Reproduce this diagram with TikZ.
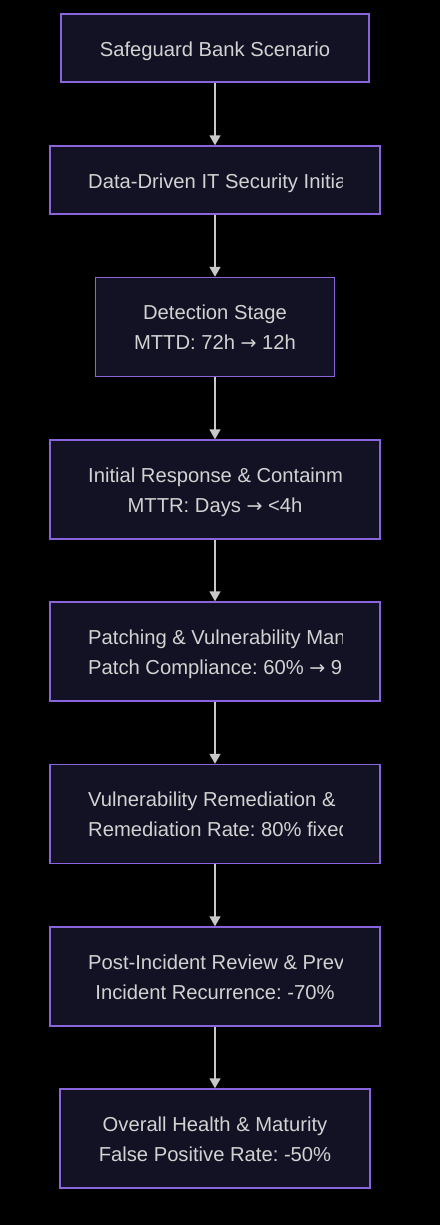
\documentclass[tikz,border=0pt]{standalone}
\usepackage{fontspec}
\setmainfont{Liberation Sans}
\newfontfamily\arrfont{DejaVu Sans}
\usetikzlibrary{arrows.meta}
\definecolor{bgc}{RGB}{0,0,0}
\definecolor{boxfill}{RGB}{18,18,36}
\definecolor{boxline}{RGB}{137,100,220}
\definecolor{txt}{RGB}{210,210,210}
\definecolor{arrc}{RGB}{200,200,200}
\newcommand{\ra}{{\arrfont\fontsize{19pt}{20pt}\selectfont →}}
\tikzset{
  x=1pt, y=-1pt,
  stagebox/.style={draw=boxline, fill=boxfill, line width=1.4pt, inner sep=0pt, anchor=center},
  lbl/.style={text=txt, font=\fontsize{20.2pt}{24pt}\selectfont\frenchspacing, inner sep=0pt, anchor=base},
  lblw/.style={lbl, anchor=base west},
  arr/.style={draw=arrc, line width=1.6pt, -{Triangle[width=11pt,length=10pt]}}
}
\begin{document}
\frenchspacing
\begin{tikzpicture}
\fill[bgc] (0,0) rectangle (440,1225);
\useasboundingbox (0,0) rectangle (440,1225);
% boxes
\node[stagebox, minimum width=308pt, minimum height=68pt] (b1) at (215,48) {};
\node[stagebox, minimum width=330pt, minimum height=68pt] (b2) at (215,180) {};
\node[stagebox, minimum width=239pt, minimum height=99pt] (b3) at (215,327) {};
\node[stagebox, minimum width=330pt, minimum height=99pt] (b4) at (215,489.5) {};
\node[stagebox, minimum width=330pt, minimum height=99pt] (b5) at (215,651.5) {};
\node[stagebox, minimum width=330pt, minimum height=99pt] (b6) at (215,814) {};
\node[stagebox, minimum width=330pt, minimum height=99pt] (b7) at (215,976.5) {};
\node[stagebox, minimum width=310pt, minimum height=99pt] (b8) at (215,1138.5) {};
% labels
\node[lbl] (t1) at (215,56.5) {Safeguard Bank Scenario};
\begin{scope}
\clip (88,140) rectangle (342,220);
\node[lblw] (t2) at (88,188.5) {Data-Driven IT Security Initiative};
\end{scope}
\node[lbl] (t3a) at (215,319.5) {Detection Stage};
\node[lbl] (t3b) at (215,349.5) {MTTD: 72h \ra{} 12h};
\begin{scope}
\clip (88,440) rectangle (342,540);
\node[lblw] (t4a) at (88,482) {Initial Response \& Containment};
\end{scope}
\node[lbl] (t4b) at (215,512) {MTTR: Days \ra{} <4h};
\begin{scope}
\clip (88,600) rectangle (342,700);
\node[lblw] (t5a) at (88,644) {Patching \& Vulnerability Management};
\node[lblw] (t5b) at (88,674) {Patch Compliance: 60\% \ra{} 95\%};
\end{scope}
\begin{scope}
\clip (88,765) rectangle (342,863);
\node[lblw] (t6a) at (88,806.5) {Vulnerability Remediation \&};
\node[lblw] (t6b) at (88,836.5) {Remediation Rate: 80\% fixed};
\end{scope}
\begin{scope}
\clip (88,927) rectangle (342,1025);
\node[lblw] (t7a) at (88,969) {Post-Incident Review \& Prevention};
\end{scope}
\node[lbl] (t7b) at (215,999) {Incident Recurrence: -70\%};
\node[lbl] (t8a) at (215,1131) {Overall Health \& Maturity};
\node[lbl] (t8b) at (215,1161) {False Positive Rate: -50\%};
% connectors
\draw[arr] (b1.south) -- (b2.north);
\draw[arr] (b2.south) -- (b3.north);
\draw[arr] (b3.south) -- (b4.north);
\draw[arr] (b4.south) -- (b5.north);
\draw[arr] (b5.south) -- (b6.north);
\draw[arr] (b6.south) -- (b7.north);
\draw[arr] (b7.south) -- (b8.north);
\end{tikzpicture}
\end{document}
